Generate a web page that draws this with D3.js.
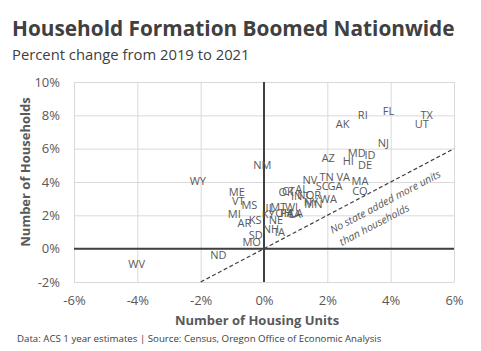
<!DOCTYPE html>
<html>
<head>
<meta charset="utf-8">
<script src="https://cdn.jsdelivr.net/npm/d3@7"></script>
<style>
  body { margin: 0; background: #fff; }
  svg text { font-family: "Open Sans", "Noto Sans", sans-serif; }
</style>
</head>
<body>
<svg id="chart" width="481" height="351"></svg>
<script>
// state labels and their % change 2019 -> 2021
const states = ['WV','ND','WY','NM','ME','VT','MS','MI','AR','KS','SD','MO','NH','IA','NE','KY','IL','MT','WI','PA','OH','CA','LA',
  'OK','CT','AL','IN','NC','OR','WA','NY','MN','NV','TN','SC','GA','VA','MA','CO','AZ','HI','MD','ID','DE','NJ','AK','RI','FL','TX','UT'];
const housingUnits = [-4.02,-1.44,-2.09,-0.05,-0.86,-0.81,-0.46,-0.94,-0.62,-0.28,-0.26,-0.39,0.22,0.50,0.38,0.13,0.19,0.45,0.87,0.72,0.62,0.95,1.03,
  0.70,0.77,1.19,1.03,1.29,1.56,2.03,1.48,1.56,1.45,1.98,1.84,2.24,2.50,3.03,3.03,2.03,2.66,2.93,3.35,3.19,3.77,2.48,3.12,3.93,5.14,4.98];
const households = [-0.88,-0.34,4.08,5.06,3.42,2.88,2.64,2.12,1.60,1.76,0.88,0.42,1.22,1.02,1.78,2.14,2.50,2.52,2.52,2.18,2.16,2.14,2.18,
  3.44,3.52,3.62,3.18,3.26,3.26,3.02,2.86,2.72,4.16,4.32,3.82,3.82,4.36,4.08,3.48,5.48,5.32,5.78,5.68,5.08,6.36,7.52,8.06,8.32,8.06,7.52];

const xTicks = [-6, -4, -2, 0, 2, 4, 6];
const yTicks = [-2, 0, 2, 4, 6, 8, 10];
const parityLine = [[-2, -2], [6, 6]];

const svg = d3.select('#chart');
const grey = '#595959';

const x = d3.scaleLinear().domain([-6, 6]).range([74, 454]);
const y = d3.scaleLinear().domain([-2, 10]).range([282, 82]);

// titles
svg.append('text').attr('x', 12).attr('y', 36)
  .attr('font-size', 20.8).attr('font-weight', 'bold').attr('fill', '#404040')
  .text('Household Formation Boomed Nationwide');
svg.append('text').attr('x', 12).attr('y', 60)
  .attr('font-size', 14.8).attr('fill', '#404040')
  .text('Percent change from 2019 to 2021');

// grid
const grid = svg.append('g').attr('stroke', '#d9d9d9').attr('stroke-width', 1);
grid.selectAll('.h').data(yTicks).join('line')
  .attr('x1', x(-6)).attr('x2', x(6))
  .attr('y1', (d) => y(d) + 0.5).attr('y2', (d) => y(d) + 0.5);
grid.selectAll('.v').data(xTicks).join('line')
  .attr('y1', y(10)).attr('y2', y(-2))
  .attr('x1', (d) => x(d) + 0.5).attr('x2', (d) => x(d) + 0.5);

// zero axes
svg.append('line').attr('x1', x(-6)).attr('x2', x(6)).attr('y1', y(0)).attr('y2', y(0))
  .attr('stroke', '#404040').attr('stroke-width', 2);
svg.append('line').attr('x1', x(0)).attr('x2', x(0)).attr('y1', y(10)).attr('y2', y(-2))
  .attr('stroke', '#404040').attr('stroke-width', 2);

// tick labels
const xAxis = d3.axisBottom(x).tickValues(xTicks).tickSize(0).tickPadding(14)
  .tickFormat((d) => d + '%');
svg.append('g').attr('transform', `translate(0,${y(-2)})`).call(xAxis)
  .call((g) => g.select('.domain').remove())
  .selectAll('text').attr('font-size', 13).attr('fill', grey)
  .attr('font-family', '"Open Sans", sans-serif');

const yAxis = d3.axisLeft(y).tickValues(yTicks).tickSize(0).tickPadding(14)
  .tickFormat((d) => d + '%');
svg.append('g').attr('transform', `translate(${x(-6)},0)`).call(yAxis)
  .call((g) => g.select('.domain').remove())
  .selectAll('text').attr('font-size', 13).attr('fill', grey)
  .attr('font-family', '"Open Sans", sans-serif');

// axis titles
svg.append('text').attr('x', 257).attr('y', 325).attr('text-anchor', 'middle')
  .attr('font-size', 13).attr('font-weight', 'bold').attr('fill', grey)
  .text('Number of Housing Units');
svg.append('text').attr('transform', 'translate(30,172) rotate(-90)').attr('text-anchor', 'middle')
  .attr('font-size', 13).attr('font-weight', 'bold').attr('fill', grey)
  .text('Number of Households');

// dashed parity line
svg.append('line')
  .attr('x1', x(parityLine[0][0])).attr('y1', y(parityLine[0][1]))
  .attr('x2', x(parityLine[1][0])).attr('y2', y(parityLine[1][1]))
  .attr('stroke', '#404040').attr('stroke-width', 1.2).attr('stroke-dasharray', '4,2.5');

const angle = Math.atan2(y(6) - y(-2), x(6) - x(-2)) * 180 / Math.PI;
svg.append('text').attr('text-anchor', 'middle')
  .attr('font-size', 10.5).attr('font-style', 'italic').attr('fill', grey)
  .attr('transform', `translate(387,205) rotate(${angle})`)
  .text('No state added more units');
svg.append('text').attr('text-anchor', 'middle')
  .attr('font-size', 10.5).attr('font-style', 'italic').attr('fill', grey)
  .attr('transform', `translate(376,228) rotate(${angle})`)
  .text('than households');

// state labels
const pts = states.map((s, i) => ({ s, hu: housingUnits[i], hh: households[i] }));
svg.append('g').selectAll('text').data(pts).join('text')
  .attr('x', (d) => x(d.hu)).attr('y', (d) => y(d.hh))
  .attr('text-anchor', 'middle').attr('dominant-baseline', 'central')
  .attr('font-size', 11).attr('fill', grey)
  .text((d) => d.s);

// footer
svg.append('text').attr('x', 17).attr('y', 342)
  .attr('font-size', 9.7).attr('fill', '#404040')
  .text('Data: ACS 1 year estimates | Source: Census, Oregon Office of Economic Analysis');
</script>
</body>
</html>
